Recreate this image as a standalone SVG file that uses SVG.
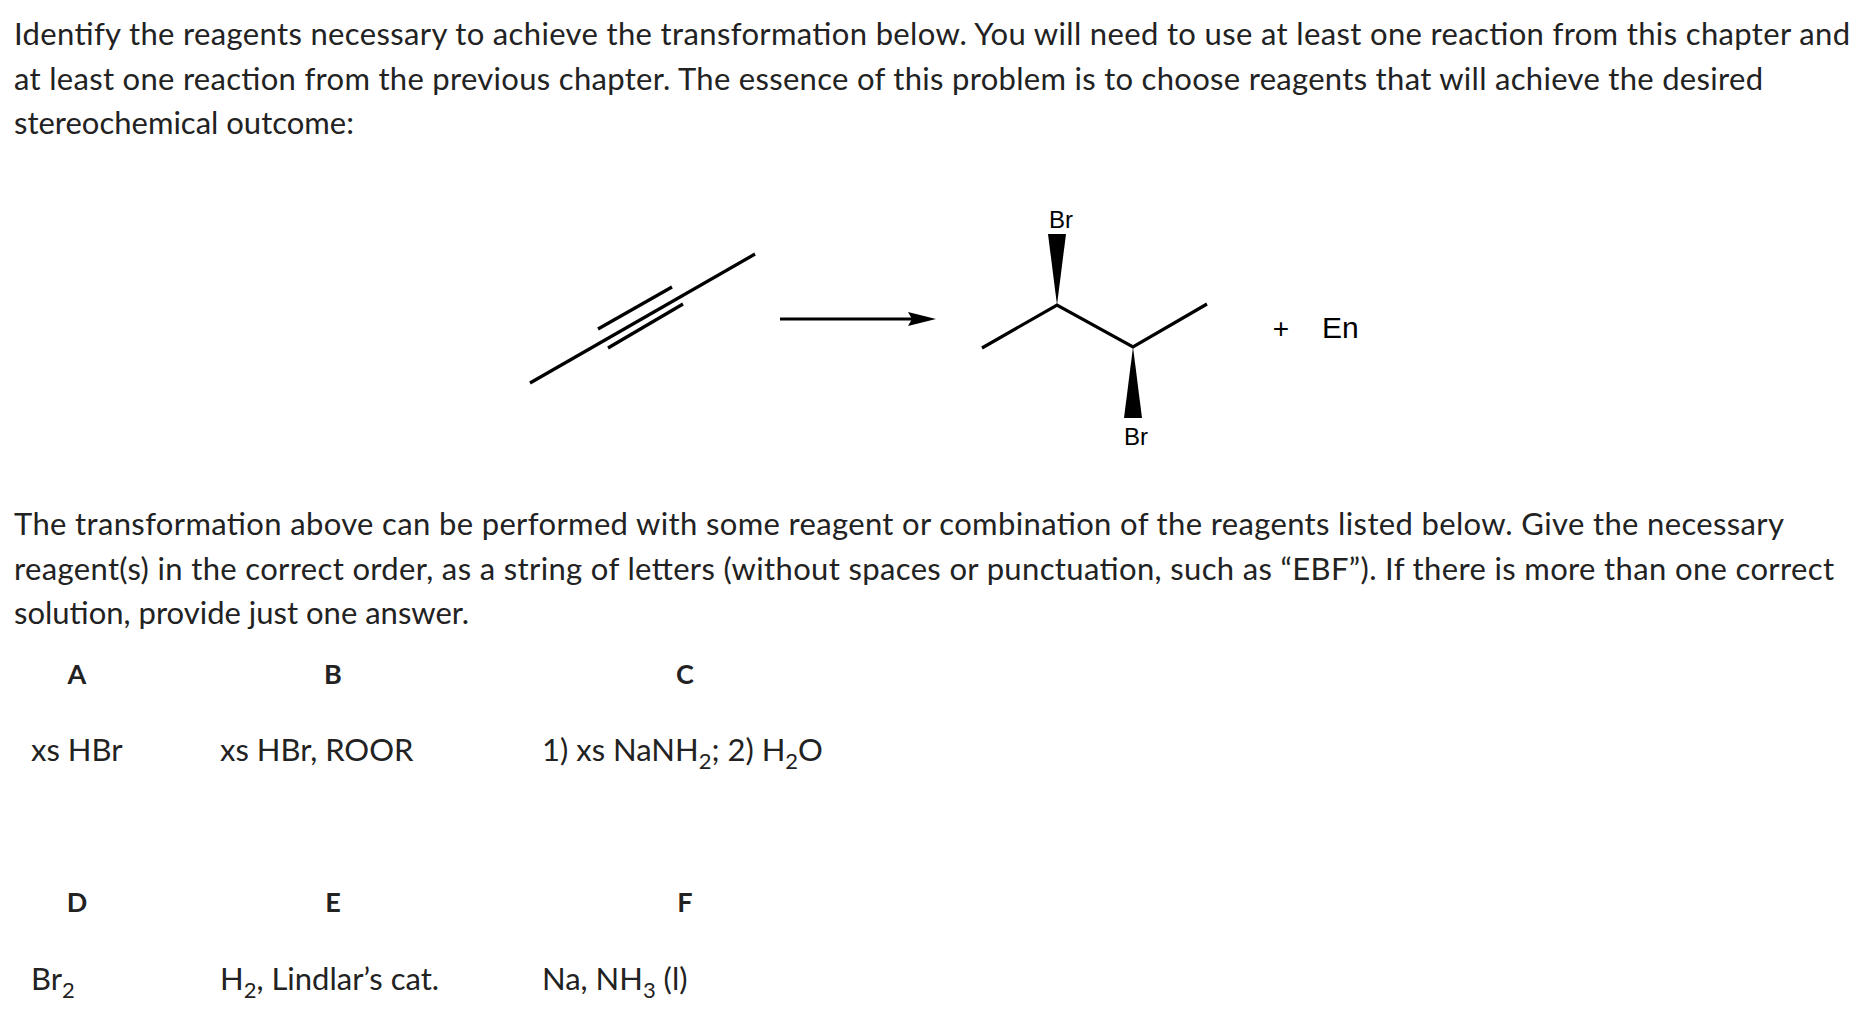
<svg xmlns="http://www.w3.org/2000/svg" width="1868" height="1010" viewBox="0 0 1868 1010">
<style>
.t{font-family:Lato,"Liberation Sans",sans-serif;font-size:31px;fill:#222}
.h{font-family:Lato,"Liberation Sans",sans-serif;font-size:27px;font-weight:bold;fill:#222;text-anchor:middle}
.c{font-family:"Liberation Sans",Arial,sans-serif;fill:#000}
.b{stroke:#000;stroke-width:3.2;fill:none;stroke-linecap:butt}
.s{font-size:22px}
</style>
<rect width="1868" height="1010" fill="#fff"/>
<g id="question">
<text class="t" x="14" y="45" textLength="1836" lengthAdjust="spacing">Identify the reagents necessary to achieve the transformation below. You will need to use at least one reaction from this chapter and</text>
<text class="t" x="14" y="90" textLength="1749" lengthAdjust="spacing">at least one reaction from the previous chapter. The essence of this problem is to choose reagents that will achieve the desired</text>
<text class="t" x="14" y="134">stereochemical outcome:</text>
</g>
<g id="alkyne">
<line class="b" x1="530" y1="383" x2="755" y2="254"/>
<line class="b" x1="598" y1="329" x2="672" y2="287"/>
<line class="b" x1="608" y1="348" x2="683" y2="304"/>
</g>
<g id="connectors">
<line class="b" x1="780" y1="319" x2="912" y2="319"/>
<polygon points="936,319 908,312 912,319 908,326" fill="#000"/>
</g>
<g id="product">
<polyline class="b" points="982,348 1057,305 1133,347 1207,304"/>
<polygon points="1057,305 1048,234 1066,234" fill="#000"/>
<polygon points="1133,347 1124,418 1142,418" fill="#000"/>
<text class="c" x="1061" y="228" font-size="24" text-anchor="middle">Br</text>
<text class="c" x="1136" y="445" font-size="24" text-anchor="middle">Br</text>
<text class="c" x="1281" y="338" font-size="28" text-anchor="middle">+</text>
<text class="c" x="1322" y="338" font-size="30">En</text>
</g>
<g id="instructions">
<text class="t" x="14" y="535" textLength="1770" lengthAdjust="spacing">The transformation above can be performed with some reagent or combination of the reagents listed below. Give the necessary</text>
<text class="t" x="14" y="580" textLength="1820" lengthAdjust="spacing">reagent(s) in the correct order, as a string of letters (without spaces or punctuation, such as “EBF”). If there is more than one correct</text>
<text class="t" x="14" y="624">solution, provide just one answer.</text>
</g>
<g id="optA"><text class="h" x="77" y="684">A</text><text class="t" x="31" y="761">xs HBr</text></g>
<g id="optB"><text class="h" x="333" y="684">B</text><text class="t" x="220" y="761">xs HBr, ROOR</text></g>
<g id="optC"><text class="h" x="685" y="684">C</text><text class="t" x="542" y="761">1) xs NaNH<tspan class="s" dy="8">2</tspan><tspan dy="-8">; 2) H</tspan><tspan class="s" dy="8">2</tspan><tspan dy="-8">O</tspan></text></g>
<g id="optD"><text class="h" x="77" y="912">D</text><text class="t" x="31" y="990">Br<tspan class="s" dy="8">2</tspan></text></g>
<g id="optE"><text class="h" x="333" y="912">E</text><text class="t" x="220" y="990">H<tspan class="s" dy="8">2</tspan><tspan dy="-8">, Lindlar’s cat.</tspan></text></g>
<g id="optF"><text class="h" x="685" y="912">F</text><text class="t" x="542" y="990">Na, NH<tspan class="s" dy="8">3</tspan><tspan dy="-8"> (l)</tspan></text></g>
</svg>
